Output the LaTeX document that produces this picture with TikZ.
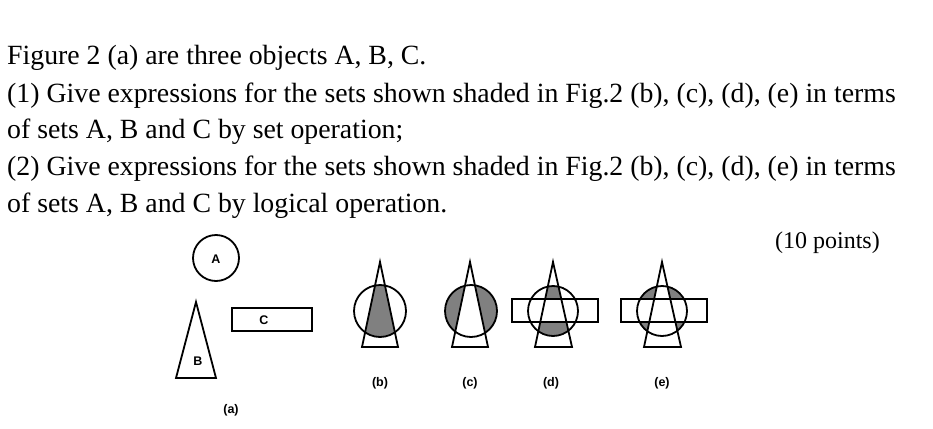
\documentclass[tikz,border=0pt]{standalone}
\usepackage{fontspec}
\setmainfont{Liberation Serif}
\newfontfamily\lab{Liberation Sans}
\begin{document}
\begin{tikzpicture}[x=1pt,y=-1pt,
  txt/.style={anchor=base west,inner sep=0pt,font=\fontsize{27.8}{30}\selectfont},
  lbl/.style={font=\lab\bfseries\fontsize{12.5}{14}\selectfont,inner sep=0pt},
  sh/.style={line width=1.8pt},
  gr/.style={fill=black!50}]
\useasboundingbox (0,0) rectangle (933,428);
\node[txt] (t1) at (7,64) {Figure 2 (a) are three objects A, B, C.};
\node[txt] (t2) at (7,102) {(1) Give expressions for the sets shown shaded in Fig.2 (b), (c), (d), (e) in terms};
\node[txt] (t3) at (7,138) {of sets A, B and C by set operation;};
\node[txt] (t4) at (7,175) {(2) Give expressions for the sets shown shaded in Fig.2 (b), (c), (d), (e) in terms};
\node[txt] (t5) at (7,212) {of sets A, B and C by logical operation.};
\node[txt,anchor=base east,font=\fontsize{24}{28}\selectfont] (pts) at (880,248) {(10 points)};
% (a)
\draw[sh] (216,258) circle (23);
\node[lbl] (la) at (216,259) {A};
\draw[sh] (196,302) -- (216,378) -- (176,378) -- cycle;
\node[lbl] (lb) at (198,361) {B};
\draw[sh] (232,308) rectangle (312,331);
\node[lbl] (lc) at (264,320) {C};
\node[lbl] (lla) at (231,410) {(a)};
% (b)
\begin{scope}
\clip (380,262) -- (398,347) -- (362,347) -- cycle;
\fill[gr] (380,311) circle (26);
\end{scope}
\draw[sh] (380,311) circle (26);
\draw[sh] (380,262) -- (398,347) -- (362,347) -- cycle;
\node[lbl] (llb) at (380,383) {(b)};
% (c)
\fill[gr] (471,311) circle (26);
\fill[white] (470,262) -- (488,347) -- (452,347) -- cycle;
\draw[sh] (471,311) circle (26);
\draw[sh] (470,262) -- (488,347) -- (452,347) -- cycle;
\node[lbl] (llc) at (470,383) {(c)};
% (d)
\begin{scope}
\clip (553,262) -- (572,347) -- (535,347) -- cycle;
\fill[gr] (553,311) circle (25);
\end{scope}
\fill[white] (512,299) rectangle (598,322);
\draw[sh] (553,311) circle (25);
\draw[sh] (553,262) -- (572,347) -- (535,347) -- cycle;
\draw[sh] (512,299) rectangle (598,322);
\node[lbl] (lld) at (551,383) {(d)};
% (e)
\fill[gr] (662,311) circle (25);
\fill[white] (662,262) -- (681,347) -- (644,347) -- cycle;
\fill[white] (621,299) rectangle (707,322);
\draw[sh] (662,311) circle (25);
\draw[sh] (662,262) -- (681,347) -- (644,347) -- cycle;
\draw[sh] (621,299) rectangle (707,322);
\node[lbl] (lle) at (662,383) {(e)};
\end{tikzpicture}
\end{document}
